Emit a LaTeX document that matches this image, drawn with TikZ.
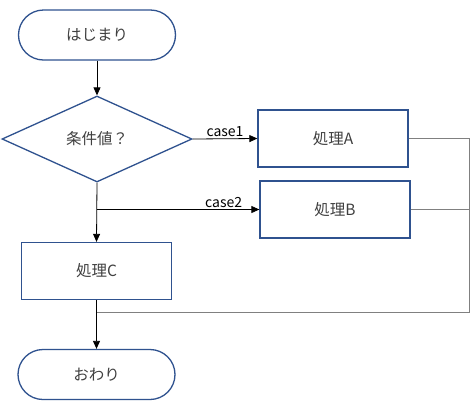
\documentclass[tikz,border=0pt]{standalone}
\usepackage{fontspec}
\setmainfont{Noto Sans CJK JP}
\usetikzlibrary{shapes.geometric,arrows.meta}
\definecolor{nodeblue}{HTML}{2F528F}
\definecolor{txtgray}{HTML}{404040}
\definecolor{busgray}{HTML}{808080}
\begin{document}
\begin{tikzpicture}[x=1pt,y=-1pt,
  every node/.style={font=\fontsize{15.5}{18}\selectfont, text=txtgray},
  term/.style={draw=nodeblue, line width=1.3pt, fill=white, rectangle, rounded corners=25pt, minimum width=157pt, minimum height=50pt, inner sep=0pt},
  proc/.style={draw=nodeblue, line width=1.3pt, fill=white, rectangle, minimum width=150pt, minimum height=57pt, inner sep=0pt},
  decis/.style={draw=nodeblue, line width=1.3pt, fill=white, diamond, aspect=2.2, minimum width=190pt, minimum height=86pt, inner sep=0pt},
  flow/.style={draw=black, line width=0.8pt, -{Triangle[length=8pt,width=7pt]}},
  bus/.style={draw=busgray, line width=1pt},
  lbl/.style={font=\fontsize{14}{16}\selectfont, text=black, inner sep=1.5pt}
]
\useasboundingbox[fill=white] (0,0) rectangle (474,408);
\node[term] (start) at (97,35) {はじまり};
\node[decis] (dec) at (97,139) {条件値？};
\node[proc] (pa) at (333,138.5) {処理A};
\node[proc] (pb) at (335,209.5) {処理B};
\node[proc] (pc) at (96.5,271) {処理C};
\node[term] (end) at (96.5,374.5) {おわり};
\coordinate (j2) at (dec.south |- pb.west);
\coordinate (r1) at (469,139);
\coordinate (r3) at (469,312);
\coordinate (j3) at (97,312);
\draw[flow] (start) -- (dec);
\draw[flow] (dec.east) -- node[lbl, above, pos=0.5] {case1} (pa.west);
\draw[flow] (dec.south) -- (pc.north);
\draw[flow] (j2) -- node[lbl, above, pos=0.78] {case2} (pb.west);
\draw[flow] (pc.south) -- (end.north);
\draw[bus] (pa.east) -- (pa.east -| r1) -- (r3) -- (j3);
\draw[bus] (pb.east) -- (pb.east -| r1);
\end{tikzpicture}
\end{document}
